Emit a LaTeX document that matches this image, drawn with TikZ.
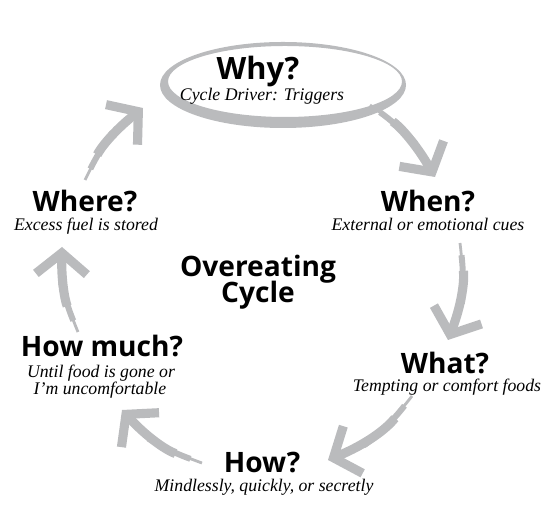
\documentclass[tikz,border=0pt]{standalone}
\usepackage{fontspec}
\setmainfont{Liberation Serif}
\newfontfamily\headfont{Open Sans}
\usepackage{tikz}
\usetikzlibrary{arrows.meta, calc, positioning}
\definecolor{brushgray}{RGB}{186,187,189}

\begin{document}
\begin{tikzpicture}[
    head/.style={font=\headfont\bfseries\fontsize{16}{18}\selectfont, anchor=base, inner sep=0pt},
    sub/.style={font=\itshape\fontsize{10.1}{12}\selectfont, anchor=base, inner sep=0pt},
    brush/.style={draw=brushgray, line width=5.2pt, shorten <=16pt,
                  -{Straight Barb[length=12pt, width=29pt]}},
    brushmid/.style={draw=brushgray, line width=3.4pt, shorten <=7pt, shorten >=22pt},
    brushtail/.style={draw=brushgray, line width=1.6pt, shorten >=22pt}]
        \useasboundingbox (0,0) rectangle (10.98,10.08);

        % brush ring round the driver
        \fill[brushgray, even odd rule] (5.66,8.38) ellipse [x radius=2.46, y radius=0.86]
                                        (5.70,8.45) ellipse [x radius=2.34, y radius=0.71];

        \node[head, font=\headfont\bfseries\fontsize{17.5}{20}\selectfont] (why) at (5.16,8.48) {Why?};
        \node[sub] (whysub) at (5.24,8.06) {Cycle Driver: Triggers};

        \node[head] (when) at (8.56,5.84) {When?};
        \node[sub] (whensub) at (8.56,5.46) {External or emotional cues};

        \node[head] (what) at (8.90,2.62) {What?};
        \node[sub] (whatsub) at (8.94,2.24) {Tempting or comfort foods};

        \node[head] (how) at (5.24,0.64) {How?};
        \node[sub] (howsub) at (5.28,0.26) {Mindlessly, quickly, or secretly};

        \node[head] (howmuch) at (2.04,2.94) {How much?};
        \node[sub] (howmuchsub) at (2.02,2.52) {Until food is gone or};
        \node[sub] (howmuchsubb) at (2.00,2.18) {I’m uncomfortable};

        \node[head] (where) at (1.70,5.84) {Where?};
        \node[sub] (wheresub) at (1.72,5.46) {Excess fuel is stored};

        \node[head] (cycle) at (5.16,4.54) {Overeating};
        \node[head] (cycleb) at (5.16,4.02) {Cycle};

        % arrow ends
        \coordinate (a1s) at (7.40,7.98);  \coordinate (a1e) at (8.70,6.54);
        \coordinate (a2s) at (9.20,5.22);  \coordinate (a2e) at (8.96,3.28);
        \coordinate (a3s) at (8.24,2.16);  \coordinate (a3e) at (6.56,0.88);
        \coordinate (a4s) at (4.04,0.82);  \coordinate (a4e) at (2.44,1.88);
        \coordinate (a5s) at (1.56,3.44);  \coordinate (a5e) at (1.24,5.14);
        \coordinate (a6s) at (1.70,6.48);  \coordinate (a6e) at (2.86,7.92);

        \foreach \s/\e/\b in {a1s/a1e/12, a2s/a2e/14, a3s/a3e/15,
                              a4s/a4e/14, a5s/a5e/12, a6s/a6e/13} {
            \draw[brushtail] (\s) to[bend left=\b] (\e);
            \draw[brushmid] (\s) to[bend left=\b] (\e);
            \draw[brush] (\s) to[bend left=\b] (\e);
        }
    \end{tikzpicture}
\end{document}
